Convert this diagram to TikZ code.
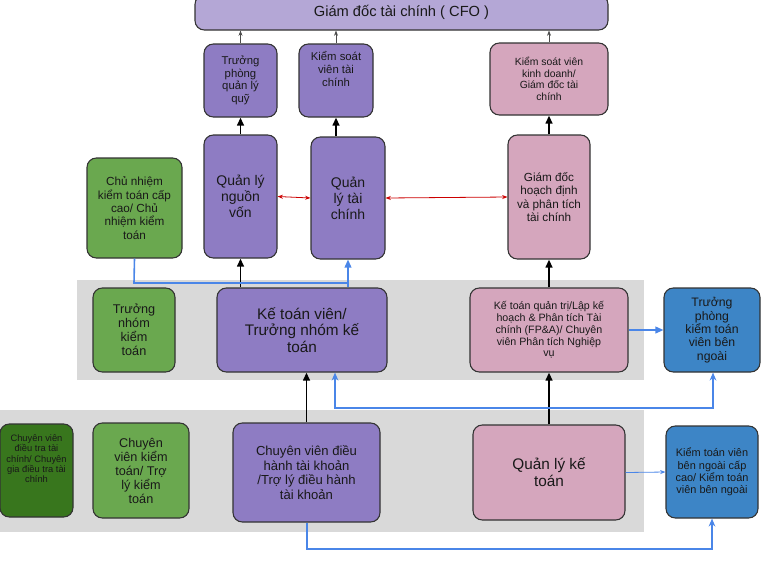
\documentclass[tikz,border=0pt]{standalone}
\usepackage{fontspec}
\setmainfont{Liberation Sans}
\usetikzlibrary{arrows.meta,calc}
\definecolor{purp}{HTML}{8E7CC3}
\definecolor{lpurp}{HTML}{B4A7D6}
\definecolor{pink}{HTML}{D5A6BD}
\definecolor{grn}{HTML}{6AA84F}
\definecolor{dgrn}{HTML}{38761D}
\definecolor{blu}{HTML}{3D85C6}
\definecolor{band}{HTML}{D9D9D9}
\definecolor{lnblue}{HTML}{4A86E8}
\begin{document}
\begin{tikzpicture}[x=0.75pt,y=-0.75pt,
  box/.style={draw=black!80, line width=0.8pt, rounded corners=7pt, align=center, inner sep=1pt, text=black!90},
  bk/.style={-{Triangle[length=6pt,width=5pt]}, line width=1.4pt},
  thin/.style={-{Stealth[length=4pt,width=3pt]}, line width=0.5pt, black!70},
  red/.style={{Stealth[length=4pt,width=3pt]}-{Stealth[length=4pt,width=3pt]}, line width=0.6pt, red!80!black},
  bl/.style={-{Stealth[length=6pt,width=5pt,open]}, line width=1.2pt, lnblue},
  bls/.style={-{Triangle[length=6pt,width=5pt]}, line width=1.2pt, lnblue}]
\useasboundingbox (0,0) rectangle (768,576);
\fill[band] (77,280) rectangle (644,380);
\fill[band] (0,410) rectangle (644,532);
\node[box,fill=lpurp,minimum width=309.75pt,minimum height=26.25pt,font=\fontsize{11}{13}\selectfont] (cfo) at (401.5,12.5) {\raisebox{-4pt}{Giám đốc tài chính ( CFO )}};
\node[box,fill=purp,minimum width=54.75pt,minimum height=54.75pt,font=\fontsize{8.5}{9.5}\selectfont] (tpq) at (240.5,80.5) {Trưởng\\phòng\\quản lý\\quỹ};
\node[box,fill=purp,minimum width=55.5pt,minimum height=54.75pt,font=\fontsize{8.5}{9.5}\selectfont] (ksv) at (336,80.5) {Kiểm soát\\viên tài\\chính\\[8pt]};
\node[box,fill=pink,minimum width=88.5pt,minimum height=54pt,font=\fontsize{7.8}{8.6}\selectfont] (kskd) at (549,79) {Kiểm soát viên\\kinh doanh/\\Giám đốc tài\\chính};
\node[box,fill=purp,minimum width=54.75pt,minimum height=92.25pt,font=\fontsize{10.5}{12}\selectfont] (qlnv) at (240.5,196.5) {Quản lý\\nguồn\\vốn};
\node[box,fill=purp,minimum width=55.5pt,minimum height=91.5pt,font=\fontsize{10.5}{12}\selectfont] (qltc) at (348,198) {Quản\\lý tài\\chính};
\node[box,fill=pink,minimum width=61.5pt,minimum height=93pt,font=\fontsize{8.8}{10}\selectfont] (gdhd) at (549,197) {Giám đốc\\hoạch định\\và phân tích\\tài chính};
\node[box,fill=grn,minimum width=71.25pt,minimum height=75pt,font=\fontsize{8.8}{10}\selectfont] (cnkt) at (134.5,208) {Chủ nhiệm\\kiểm toán cấp\\cao/ Chủ\\nhiệm kiểm\\toán};
\node[box,fill=grn,minimum width=61.5pt,minimum height=63pt,font=\fontsize{9.5}{10.5}\selectfont] (tnkt) at (134,330) {Trưởng\\nhóm\\kiểm\\toán};
\node[box,fill=purp,minimum width=127.5pt,minimum height=63pt,font=\fontsize{11.5}{12.5}\selectfont] (ktv) at (302,330) {Kế toán viên/\\Trưởng nhóm kế\\toán};
\node[box,fill=pink,minimum width=118.5pt,minimum height=63pt,font=\fontsize{8}{8.8}\selectfont] (ktqt) at (549,330) {Kế toán quản trị/Lập kế\\hoạch \& Phân tích Tài\\chính (FP\&A)/ Chuyên\\viên Phân tích Nghiệp\\vụ};
\node[box,fill=blu,minimum width=72pt,minimum height=63pt,font=\fontsize{9.2}{10}\selectfont] (tpk) at (712,330) {Trưởng\\phòng\\kiểm toán\\viên bên\\ngoài};
\node[box,fill=dgrn,minimum width=54.75pt,minimum height=69.75pt,font=\fontsize{7}{7.8}\selectfont] (cvdt) at (36.5,470.5) {Chuyên viên\\điều tra tài\\chính/ Chuyên\\gia điều tra tài\\chính\\[10pt]};
\node[box,fill=grn,minimum width=72pt,minimum height=71.25pt,font=\fontsize{9.5}{10.5}\selectfont] (cvkt) at (141,470.5) {Chuyên\\viên kiểm\\toán/ Trợ\\lý kiểm\\toán};
\node[box,fill=purp,minimum width=110.25pt,minimum height=74.25pt,font=\fontsize{9.8}{11}\selectfont] (cvdh) at (306.5,472.5) {Chuyên viên điều\\hành tài khoản\\/Trợ lý điều hành\\tài khoản};
\node[box,fill=pink,minimum width=114pt,minimum height=71.25pt,font=\fontsize{11.5}{13}\selectfont] (qlkt) at (549,472.5) {Quản lý kế\\toán};
\node[box,fill=blu,minimum width=69pt,minimum height=69pt,font=\fontsize{8.2}{9.2}\selectfont] (ktvb) at (712,472) {Kiểm toán viên\\bên ngoài cấp\\cao/ Kiểm toán\\viên bên ngoài};
% to CFO
\draw[thin] (tpq.north) -- (tpq.north |- cfo.south);
\draw[thin] (ksv.north) -- (ksv.north |- cfo.south);
\draw[thin] (kskd.north) -- (kskd.north |- cfo.south);
\draw[bk] (qlnv.north) -- (tpq.south);
\draw[bk] (qltc.north -| ksv) -- (ksv.south);
\draw[bk] (gdhd.north) -- (kskd.south);
\draw[red] (qlnv.east) -- (qltc.west);
\draw[red] (qltc.east) -- (gdhd.west);
\draw[bk] (ktv.north -| qlnv) -- (qlnv.south);
\coordinate (j1) at (134,283);
\draw[line width=1.2pt,lnblue] (cnkt.south) -- (j1) -- (j1 -| qltc);
\draw[bls] (ktv.north -| qltc) -- (qltc.south);
\draw[bk] (ktqt.north) -- (gdhd.south);
\draw[bk] (cvdh.north) -- (cvdh.north |- ktv.south);
\draw[bk] (qlkt.north) -- (ktqt.south);
\coordinate (j2) at (335,408);
\coordinate (j3) at (713,408);
\draw[bl] (j3) -- (j2) -- (j2 |- ktv.south);
\draw[bl] (j2) -- (j3) -- (tpk.south -| j3);
\draw[bls] (ktqt.east) -- (tpk.west);
\draw[-{Stealth[length=4pt,width=3pt]}, line width=0.6pt, lnblue] (qlkt.east) -- (ktvb.west);
\coordinate (j4) at (307,549);
\draw[bl] (cvdh.south -| j4) -- (j4) -- (j4 -| ktvb) -- (ktvb.south);
\end{tikzpicture}
\end{document}
